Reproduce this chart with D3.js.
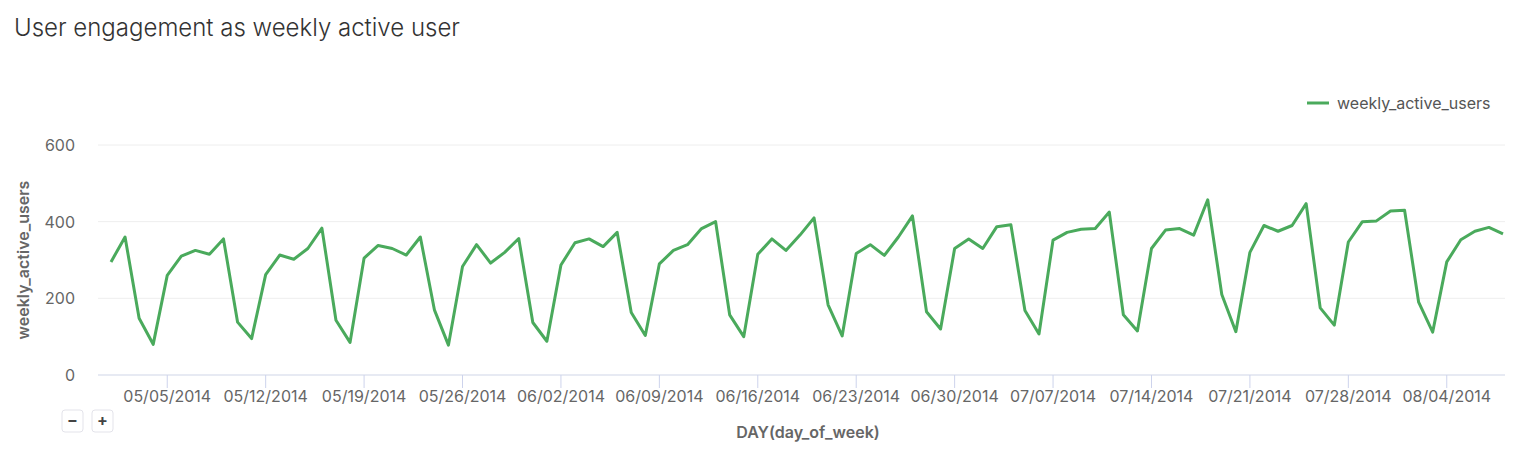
<!DOCTYPE html>
<html><head><meta charset="utf-8">
<script src="https://cdn.jsdelivr.net/npm/d3@7"></script>
<style>body{margin:0;background:#fff;font-family:Inter,"Noto Sans",sans-serif}</style>
</head><body><svg id="c" width="1528" height="453"></svg>
<script>
const startDate = "2014-05-01";
const values = [295,360,148,80,
260,310,325,315,355,138,95,
262,313,302,330,383,143,85,
305,338,330,313,360,170,78,
283,340,292,320,356,137,88,
287,345,355,335,372,163,103,
290,325,340,382,400,157,100,
315,355,325,365,410,183,102,
317,340,312,360,415,165,120,
330,355,330,387,392,168,107,
352,372,380,382,425,157,115,
330,378,382,365,457,210,113,
320,390,375,390,447,175,130,
347,400,402,428,430,190,112,
295,353,375,385,368];
const yTicks = [0,200,400,600];
const seriesName = "weekly_active_users";

const parse = d3.timeParse("%Y-%m-%d");
const d0 = parse(startDate);
const data = values.map((v,i)=>({date:d3.timeDay.offset(d0,i), v}));
const svg = d3.select("#c");
const x = d3.scaleTime().domain(d3.extent(data,d=>d.date)).range([111,1503]);
const y = d3.scaleLinear().domain([0,600]).range([375,145]);

svg.append("text").attr("x",14).attr("y",36).attr("font-size",24).attr("fill","#333").attr("font-weight",300)
  .text("User engagement as weekly active user");

svg.selectAll(".g").data(yTicks).join("line").attr("x1",98).attr("x2",1505)
  .attr("y1",d=>y(d)).attr("y2",d=>y(d)).attr("stroke",d=>d===0?"#dfe3ef":"#eeeeee").attr("stroke-width",d=>d===0?1.5:1);
svg.selectAll(".yl").data(yTicks).join("text").attr("x",75).attr("y",d=>y(d)+6).attr("text-anchor","end")
  .attr("font-size",16).attr("fill","#666").text(d=>d);

const ticks = d3.timeMonday.range(d3.timeDay.offset(d0,1), d3.timeDay.offset(d0,100));
const fmt = d3.timeFormat("%m/%d/%Y");
svg.selectAll(".tk").data(ticks).join("line").attr("x1",d=>x(d)).attr("x2",d=>x(d))
  .attr("y1",375).attr("y2",388).attr("stroke","#cdd3ec");
svg.selectAll(".tl").data(ticks).join("text").attr("x",d=>x(d)).attr("y",402).attr("text-anchor","middle")
  .attr("font-size",16).attr("fill","#666").text(d=>fmt(d));

svg.append("path").datum(data).attr("fill","none").attr("stroke","#4aaa5c").attr("stroke-width",3)
  .attr("stroke-linejoin","round").attr("d",d3.line().x(d=>x(d.date)).y(d=>y(d.v)));

svg.append("line").attr("x1",1307).attr("x2",1329).attr("y1",103).attr("y2",103).attr("stroke","#4aaa5c").attr("stroke-width",3);
svg.append("text").attr("x",1337).attr("y",109).attr("font-size",16).attr("fill","#555").text(seriesName);

svg.append("text").attr("transform","translate(29,260) rotate(-90)").attr("text-anchor","middle")
  .attr("font-size",16).attr("font-weight",600).attr("fill","#666").text(seriesName);
svg.append("text").attr("x",808).attr("y",438).attr("text-anchor","middle")
  .attr("font-size",16).attr("font-weight",600).attr("fill","#666").text("DAY(day_of_week)");

[["−",72],["+",102]].forEach(([t,cx])=>{
  svg.append("rect").attr("x",cx-10).attr("y",410).attr("width",21).attr("height",22).attr("rx",3)
    .attr("fill","#fff").attr("stroke","#e3e3ea");
  svg.append("text").attr("x",cx+0.5).attr("y",426).attr("text-anchor","middle").attr("font-size",16)
    .attr("font-weight",700).attr("fill","#444").text(t);
});
</script></body></html>
